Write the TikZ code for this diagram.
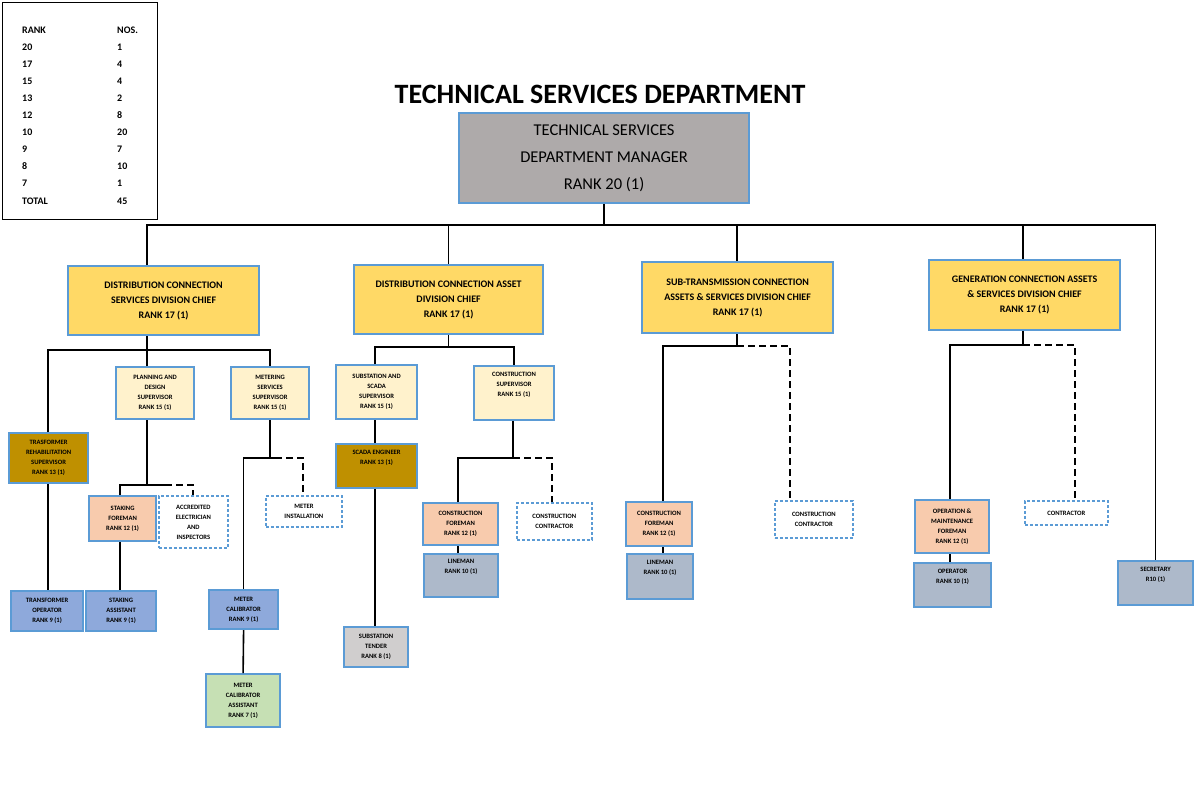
\documentclass[tikz,border=0pt]{standalone}
\usepackage{fontspec}
\setmainfont{Carlito}
\begin{document}
\begin{tikzpicture}[x=1pt,y=-1pt,
  bx/.style={draw=blue!45!cyan!60!black!70, draw=bord, line width=2.2pt, anchor=north west, inner sep=0pt, align=center, font=\fontsize{6.6}{10}\selectfont\bfseries},
  dv/.style={bx, fill=divy, font=\fontsize{10}{15}\selectfont\bfseries},
  dt/.style={bx, fill=white, dash pattern=on 3pt off 2pt, line width=1.8pt},
  ln/.style={line width=1.6pt},
  dl/.style={line width=1.6pt, dash pattern=on 7pt off 4pt},
  every node/.append style={}]
\definecolor{bord}{HTML}{5B9BD5}
\definecolor{divy}{HTML}{FFD966}
\definecolor{mgr}{HTML}{AEAAAA}
\definecolor{sup}{HTML}{FFF2CC}
\definecolor{gold}{HTML}{BF9000}
\definecolor{peach}{HTML}{F8CBAD}
\definecolor{blu}{HTML}{8EA9DB}
\definecolor{gry}{HTML}{ADB9CA}
\definecolor{lgry}{HTML}{D0CECE}
\definecolor{grn}{HTML}{C6E0B4}
\newcommand{\bxx}[7]{\node[#6, minimum width={(#4-#2)*1pt}, minimum height={(#5-#3)*1pt}] (#1) at (#2,#3) {#7};}
\useasboundingbox (0,0) rectangle (1200,785);
% rank table
\draw[line width=0.8pt] (2,2) rectangle (157,219);
\foreach \a/\b/\y in {RANK/NOS./30,20/1/47,17/4/64,15/4/81,13/2/98,12/8/115,10/20/132,9/7/149,8/10/166,7/1/183,TOTAL/45/201}
  \node[anchor=west, font=\fontsize{10}{12}\selectfont\bfseries, inner sep=0] at (22,\y) {\a} node[anchor=west, font=\fontsize{10}{12}\selectfont\bfseries, inner sep=0] at (117,\y) {\b};
\node[font=\fontsize{28}{32}\selectfont\bfseries] (title) at (600,94) {TECHNICAL SERVICES DEPARTMENT};
\bxx{mg}{458}{112}{748}{202}{bx, fill=mgr, font=\fontsize{16.5}{27}\selectfont}{TECHNICAL SERVICES\\DEPARTMENT MANAGER\\RANK 20 (1)}
\bxx{d1}{67}{265}{258}{334}{dv}{DISTRIBUTION CONNECTION\\SERVICES DIVISION CHIEF\\RANK 17 (1)}
\bxx{d2}{353}{264}{542}{333}{dv}{DISTRIBUTION CONNECTION ASSET\\DIVISION CHIEF\\RANK 17 (1)}
\bxx{d3}{641}{261}{832}{332}{dv}{SUB-TRANSMISSION CONNECTION\\ASSETS \& SERVICES DIVISION CHIEF\\RANK 17 (1)}
\bxx{d4}{928}{259}{1119}{329}{dv}{GENERATION CONNECTION ASSETS\\\& SERVICES DIVISION CHIEF\\RANK 17 (1)}
% div1
\bxx{pl}{115}{366}{193}{418}{bx, fill=sup}{PLANNING AND\\DESIGN\\SUPERVISOR\\RANK 15 (1)}
\bxx{me}{230}{366}{308}{418}{bx, fill=sup}{METERING\\SERVICES\\SUPERVISOR\\RANK 15 (1)}
\bxx{tr}{8}{432}{87}{482}{bx, fill=gold}{TRASFORMER\\REHABILITATION\\SUPERVISOR\\RANK 13 (1)}
\bxx{to}{10}{590}{82}{630}{bx, fill=blu}{TRANSFORMER\\OPERATOR\\RANK 9 (1)}
\bxx{sf}{88}{495}{155}{540}{bx, fill=peach}{STAKING\\FOREMAN\\RANK 12 (1)}
\bxx{ac}{158}{495}{227}{547}{dt}{ACCREDITED\\ELECTRICIAN\\AND\\INSPECTORS}
\bxx{sa}{85}{590}{155}{630}{bx, fill=blu}{STAKING\\ASSISTANT\\RANK 9 (1)}
\bxx{mi}{265}{495}{341}{526}{dt}{METER\\INSTALLATION}
\bxx{mc}{208}{589}{277}{628}{bx, fill=blu}{METER\\CALIBRATOR\\RANK 9 (1)}
\bxx{ma}{205}{673}{279}{726}{bx, fill=grn}{METER\\CALIBRATOR\\ASSISTANT\\RANK 7 (1)}
% div2
\bxx{ss}{335}{364}{416}{418}{bx, fill=sup}{SUBSTATION AND\\SCADA\\SUPERVISOR\\RANK 15 (1)}
\bxx{cs}{473}{365}{553}{419}{bx, fill=sup}{CONSTRUCTION\\SUPERVISOR\\RANK 15 (1)\\[8pt]}
\bxx{se}{335}{443}{416}{487}{bx, fill=gold}{SCADA ENGINEER\\RANK 13 (1)\\[8pt]}
\bxx{st}{343}{626}{407}{666}{bx, fill=lgry}{SUBSTATION\\TENDER\\RANK 8 (1)}
\bxx{cf}{422}{502}{497}{544}{bx, fill=peach}{CONSTRUCTION\\FOREMAN\\RANK 12 (1)}
\bxx{cc}{516}{502}{591}{539}{dt}{CONSTRUCTION\\CONTRACTOR}
\bxx{lm}{423}{553}{497}{596}{bx, fill=gry}{LINEMAN\\RANK 10 (1)\\[8pt]}
% div3
\bxx{cf3}{625}{501}{691}{545}{bx, fill=peach}{CONSTRUCTION\\FOREMAN\\RANK 12 (1)}
\bxx{cc3}{774}{500}{852}{537}{dt}{CONSTRUCTION\\CONTRACTOR}
\bxx{lm3}{626}{553}{692}{598}{bx, fill=gry}{LINEMAN\\RANK 10 (1)\\[8pt]}
% div4
\bxx{om}{914}{499}{988}{552}{bx, fill=peach}{OPERATION \&\\MAINTENANCE\\FOREMAN\\RANK 12 (1)}
\bxx{ct}{1024}{500}{1107}{524}{dt}{CONTRACTOR}
\bxx{op}{913}{562}{990}{606}{bx, fill=gry}{OPERATOR\\RANK 10 (1)\\[8pt]}
\bxx{sec}{1117}{560}{1192}{604}{bx, fill=gry}{SECRETARY\\R10 (1)\\[8pt]}
% top connectors
\draw[ln] (mg.south) -- (mg.south |- 0,225);
\draw[ln] (d1.north -| 147,0) |- (sec.north |- 0,225) -- (sec.north);
\draw[ln] (d2.north) -- (d2.north |- 0,225);
\draw[ln] (d3.north -| 737,0) -- (737,225);
\draw[ln] (d4.north -| 1023,0) -- (1023,225);
% div1
\draw[ln] (d1.south -| 147,0) -- (147,350);
\draw[ln] (tr.north -| 48,0) |- (me.north |- 0,350) -- (me.north);
\draw[ln] (pl.north -| 147,0) -- (147,350);
\draw[ln] (pl.south -| 147,0) -- (147,485);
\draw[ln] (sf.north -| 120,0) |- (165,485);
\draw[dl] (165,485) -| (ac.north -| 193,0);
\draw[ln] (tr.south -| 48,0) -- (to.north -| 48,0);
\draw[ln] (sf.south -| 120,0) -- (sa.north -| 120,0);
\draw[ln] (me.south -| 270,0) -- (270,458);
\draw[ln] (mc.north) |- (275,458);
\draw[dl] (275,458) -| (mi.north -| 303,0);
\draw[ln] (mc.south) -- (ma.north);
% div2
\draw[ln] (d2.south) -- (d2.south |- 0,347);
\draw[ln] (ss.north -| 375,0) |- (cs.north |- 0,347) -- (cs.north);
\draw[ln] (ss.south -| 375,0) -- (se.north -| 375,0);
\draw[ln] (se.south -| 375,0) -- (st.north -| 375,0);
\draw[ln] (cs.south -| 513,0) -- (513,458);
\draw[ln] (cf.north -| 458,0) |- (513,458);
\draw[dl] (513,458) -| (cc.north -| 552,0);
\draw[ln] (cf.south -| 458,0) -- (lm.north -| 458,0);
% div3
\draw[ln] (d3.south -| 737,0) -- (737,346);
\draw[ln] (cf3.north -| 663,0) |- (737,346);
\draw[dl] (737,346) -| (cc3.north -| 790,0);
\draw[ln] (cf3.south -| 663,0) -- (lm3.north -| 663,0);
% div4
\draw[ln] (d4.south -| 1023,0) -- (1023,345);
\draw[ln] (om.north -| 950,0) |- (1023,345);
\draw[dl] (1023,345) -| (ct.north -| 1075,0);
\draw[ln] (om.south -| 950,0) -- (op.north -| 950,0);
\end{tikzpicture}
\end{document}
